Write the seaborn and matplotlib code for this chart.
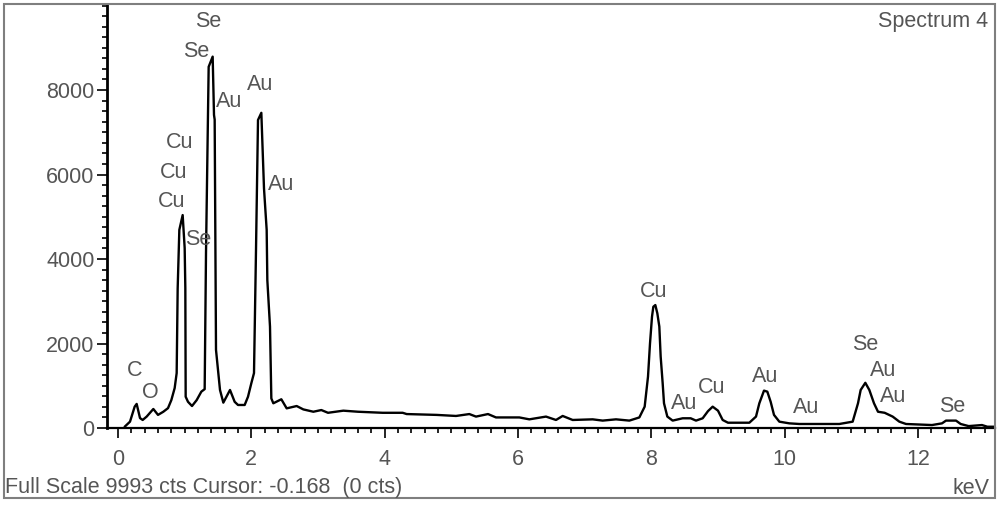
# EDS spectrum (Spectrum 4) redrawn with seaborn
import numpy as np
import pandas as pd
import matplotlib
matplotlib.use("Agg")
import matplotlib.pyplot as plt
from matplotlib.ticker import MultipleLocator
from matplotlib.patches import Rectangle
import seaborn as sns

# Spectrum: energy (keV) and counts
energy = [0.10, 0.18, 0.25, 0.28, 0.33, 0.37, 0.43, 0.53, 0.60, 0.68, 0.75, 0.80,
          0.85, 0.88, 0.895, 0.92, 0.95, 0.97, 1.00, 1.01, 1.015, 1.05, 1.11, 1.18,
          1.25, 1.30, 1.32, 1.36, 1.42, 1.44, 1.45, 1.47, 1.53, 1.58, 1.68, 1.75,
          1.80, 1.90, 1.95, 2.00, 2.04, 2.07, 2.10, 2.15, 2.19, 2.23, 2.24, 2.28,
          2.30, 2.33, 2.45, 2.53, 2.68, 2.78, 2.93, 3.05, 3.15, 3.38, 3.60, 3.97,
          4.27, 4.33, 4.78, 5.07, 5.27, 5.37, 5.55, 5.67, 6.02, 6.17, 6.42, 6.57,
          6.67, 6.82, 7.12, 7.27, 7.47, 7.67, 7.82, 7.90, 7.95, 7.98, 8.01, 8.03,
          8.06, 8.09, 8.12, 8.14, 8.17, 8.19, 8.24, 8.32, 8.47, 8.59, 8.67, 8.77,
          8.85, 8.92, 9.00, 9.07, 9.15, 9.47, 9.57, 9.62, 9.69, 9.74, 9.79, 9.84,
          9.92, 10.07, 10.22, 10.47, 10.82, 11.02, 11.10, 11.14, 11.21, 11.27, 11.34,
          11.40, 11.50, 11.62, 11.72, 11.82, 12.21, 12.36, 12.42, 12.57, 12.64, 12.76,
          12.96, 13.04, 13.15]
counts = [30, 150, 505, 570, 235, 190, 270, 450, 310, 385, 470, 660,
          945, 1300, 3300, 4690, 4900, 5040, 4260, 3310, 740, 620, 520, 660,
          860, 920, 4140, 8550, 8790, 7410, 7300, 1850, 900, 600, 900, 620,
          545, 545, 740, 1060, 1300, 4210, 7290, 7460, 5670, 4690, 3500, 2400,
          700, 585, 680, 465, 520, 440, 385, 425, 360, 410, 385, 360,
          360, 330, 310, 285, 330, 270, 330, 250, 250, 205, 270, 190,
          285, 190, 205, 175, 205, 175, 250, 505, 1215, 2000, 2635, 2870,
          2910, 2715, 2400, 1690, 1060, 585, 270, 175, 230, 230, 175, 230,
          400, 505, 410, 190, 125, 125, 270, 585, 885, 860, 620, 310,
          150, 110, 95, 95, 95, 150, 585, 900, 1070, 900, 585,
          385, 360, 270, 150, 95, 70, 110, 175, 175, 95, 45,
          70, 30, 30]

# Peak labels: text, energy (keV), counts
peak_names = ["Se", "Se", "Au", "Au", "Cu", "Cu", "Cu", "Se", "Au", "C", "O",
              "Cu", "Au", "Cu", "Au", "Au", "Se", "Au", "Au", "Se"]
peak_kev = [1.35, 1.18, 1.66, 2.13, 0.92, 0.83, 0.81, 1.20, 2.44, 0.25, 0.49,
            8.04, 8.49, 8.90, 9.71, 10.32, 11.21, 11.47, 11.62, 12.52]
peak_cts = [9610, 8900, 7720, 8120, 6750, 6040, 5370, 4450, 5775, 1370, 830,
            3240, 570, 970, 1210, 475, 1965, 1370, 735, 500]

df = pd.DataFrame({"keV": energy, "cts": counts})

sns.set_style("ticks")
plt.rcParams["font.family"] = ["Liberation Sans", "DejaVu Sans"]
grey = "#555555"
fs = 15.5

fig = plt.figure(figsize=(10, 5.05), dpi=100)
ax = fig.add_axes([0.107, 1 - 428 / 505, 0.888, 424 / 505])

sns.lineplot(data=df, x="keV", y="cts", color="black", linewidth=1.7, ax=ax)

for name, x, y in zip(peak_names, peak_kev, peak_cts):
    ax.text(x, y, name, ha="center", va="center", fontsize=fs, color=grey)

ax.set_xlim(-0.165, 13.155)
ax.set_ylim(0, 10036)
ax.set_xticks(np.arange(0, 13, 2))
ax.set_yticks(np.arange(0, 8001, 2000))
ax.xaxis.set_minor_locator(MultipleLocator(0.2))
ax.yaxis.set_minor_locator(MultipleLocator(250))
ax.tick_params(which="major", length=7, width=1.2, color="black",
               labelsize=fs, labelcolor=grey)
ax.tick_params(which="minor", length=3.5, width=1.2, color="black")
ax.tick_params(axis="x", which="major", pad=8)
ax.tick_params(axis="y", which="major", pad=2)
ax.set_xlabel("")
ax.set_ylabel("")

sns.despine(ax=ax, top=True, right=True)
ax.spines["left"].set_linewidth(2)
ax.spines["bottom"].set_linewidth(1.6)
ax.spines["left"].set_color("black")
ax.spines["bottom"].set_color("black")

# outer frame of the instrument window
fig.add_artist(Rectangle((4 / 1000, 1 - 498 / 505), 991 / 1000, 494 / 505,
                         transform=fig.transFigure, fill=False,
                         edgecolor="#7f7f7f", linewidth=1.5))

fig.text(988 / 1000, 1 - 22 / 505, "Spectrum 4", ha="right", va="center",
         fontsize=fs, color=grey)
fig.text(5 / 1000, 1 - 487 / 505, "Full Scale 9993 cts Cursor: -0.168  (0 cts)",
         ha="left", va="center", fontsize=fs, color=grey)
fig.text(990 / 1000, 1 - 488 / 505, "keV", ha="right", va="center",
         fontsize=fs, color=grey)

fig.savefig("out.png", dpi=100)
